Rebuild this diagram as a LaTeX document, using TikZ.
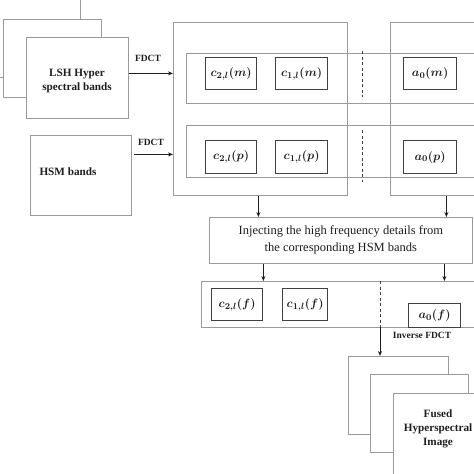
\documentclass[tikz,border=0pt]{standalone}
\usepackage{fontspec}
\usepackage{amsmath}
\setmainfont{Liberation Serif}
\usetikzlibrary{arrows.meta}
\definecolor{lgray}{HTML}{9A9A9A}
\definecolor{dgray}{HTML}{404040}
\definecolor{ink}{HTML}{1E1E1E}
\tikzset{
  gbox/.style={draw=lgray, line width=0.8pt, anchor=north west, inner sep=0pt},
  wbox/.style={gbox, fill=white},
  cbox/.style={draw=dgray, line width=1.2pt, anchor=north west, inner sep=0pt},
  ctxt/.style={text=ink, inner sep=0pt, font=\fontsize{12.5}{13}\selectfont\boldmath},
  arr/.style={draw=ink, line width=0.9pt, -{Stealth[length=5pt,width=4pt]}},
  dsh/.style={draw=dgray, line width=1pt, dash pattern=on 3pt off 2.5pt},
  blab/.style={font=\bfseries\fontsize{9.5}{11}\selectfont, text=ink, inner sep=0pt},
  btxt/.style={font=\bfseries\fontsize{11.2}{14}\selectfont, text=ink, align=center, inner sep=0pt},
}
\begin{document}
\begin{tikzpicture}[x=1pt,y=-1pt]
\useasboundingbox (0,0) rectangle (474,474);
% input stacks
\node[wbox, minimum width=100pt, minimum height=97pt] (back) at (-20,-20) {};
\node[wbox, minimum width=98pt, minimum height=78pt] (mid) at (3,19) {};
\node[wbox, minimum width=102pt, minimum height=81pt] (lsh) at (26,37) {};
\node[btxt] (lshtxt) at (77,81) {LSH Hyper\\spectral bands};
\node[wbox, minimum width=101pt, minimum height=80pt] (hsm) at (30,135) {};
\node[btxt] (hsmtxt) at (68,172) {HSM bands};
% containers
\node[gbox, minimum width=174pt, minimum height=173pt] (lcont) at (173,22) {};
\node[gbox, minimum width=120pt, minimum height=173pt] (rcont) at (390,22) {};
\node[gbox, minimum width=320pt, minimum height=50pt] (band1) at (186,53) {};
\node[gbox, minimum width=320pt, minimum height=52pt] (band2) at (186,125) {};
% coefficient boxes
\node[cbox, minimum width=51pt, minimum height=32pt] (c2m) at (205,57) {};
\node[ctxt] at (c2m.center) {$c_{2,l}(m)$};
\node[cbox, minimum width=52pt, minimum height=32pt] (c1m) at (275,57) {};
\node[ctxt] at (c1m.center) {$c_{1,l}(m)$};
\node[cbox, minimum width=53pt, minimum height=32pt] (a0m) at (403,57) {};
\node[ctxt] at (a0m.center) {$a_0(m)$};
\node[cbox, minimum width=51pt, minimum height=33pt] (c2p) at (205,140) {};
\node[ctxt] at (c2p.center) {$c_{2,l}(p)$};
\node[cbox, minimum width=52pt, minimum height=33pt] (c1p) at (275,140) {};
\node[ctxt] at (c1p.center) {$c_{1,l}(p)$};
\node[cbox, minimum width=53pt, minimum height=33pt] (a0p) at (403,140) {};
\node[ctxt] at (a0p.center) {$a_0(p)$};
% dashed separators
\coordinate (d1a) at (362,51); \coordinate (d1b) at (362,97);
\coordinate (d2a) at (362,130); \coordinate (d2b) at (362,182);
\draw[dsh] (d1a) -- (d1b);
\draw[dsh] (d2a) -- (d2b);
% FDCT arrows
\draw[arr] ([yshift=4.5pt]lsh.east) -- ([yshift=4.5pt]lsh.east -| lcont.west);
\node[blab] (fd1) at (148,58) {FDCT};
\draw[arr] ([xshift=2pt,yshift=21pt]hsm.east) -- ([yshift=21pt]hsm.east -| lcont.west);
\node[blab] (fd2) at (151,142) {FDCT};
% injecting
\node[gbox, minimum width=263pt, minimum height=46pt] (inj) at (209,217) {};
\node[text=ink, align=center, font=\fontsize{12.5}{17}\selectfont, inner sep=0pt] (injtxt) at (inj.center)
  {Injecting the high frequency details from\\the corresponding HSM bands};
\draw[arr] ([xshift=-2pt]lcont.south) -- ([xshift=-2pt]lcont.south |- inj.north);
\draw[arr] ([xshift=-4pt]rcont.south) -- ([xshift=-4pt]rcont.south |- inj.north);
% fused band
\node[gbox, minimum width=310pt, minimum height=46pt] (bandf) at (201,281) {};
\draw[arr] ([xshift=-77.5pt]inj.south) -- ([xshift=-77.5pt]inj.south |- bandf.north);
\draw[arr] ([xshift=103.5pt]inj.south) -- ([xshift=103.5pt]inj.south |- bandf.north);
\node[cbox, minimum width=51pt, minimum height=32pt] (c2f) at (211,288) {};
\node[ctxt] at (c2f.center) {$c_{2,l}(f)$};
\node[cbox, minimum width=45pt, minimum height=32pt] (c1f) at (282,288) {};
\node[ctxt] at (c1f.center) {$c_{1,l}(f)$};
\node[cbox, minimum width=52pt, minimum height=24pt] (a0f) at (408,303) {};
\node[ctxt] at (a0f.center) {$a_0(f)$};
\coordinate (dfa) at (380,281);
\coordinate (dfb) at (380,327);
\draw[dsh] (dfa) -- (dfb);
% outputs
\node[wbox, minimum width=100pt, minimum height=78pt] (fu1) at (348,356) {};
\node[wbox, minimum width=98pt, minimum height=78pt] (fu2) at (370,374) {};
\node[wbox, minimum width=130pt, minimum height=130pt] (fu3) at (393,393) {};
\node[btxt] (futxt) at (438,429) {Fused\\Hyperspectral\\Image};
\draw[arr] (dfb) -- (dfb |- fu1.north);
\node[blab] (ifd) at (422,335) {Inverse FDCT};
\end{tikzpicture}
\end{document}
